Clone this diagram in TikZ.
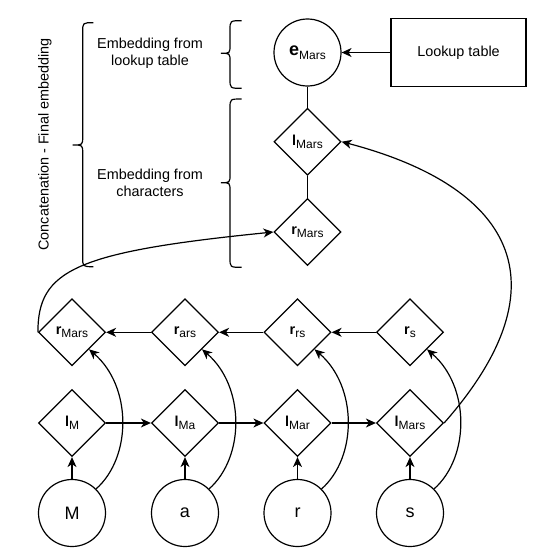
\documentclass[tikz,border=0pt]{standalone}
\usepackage{fontspec}
\setmainfont{Liberation Sans}
\usetikzlibrary{shapes.geometric,arrows.meta}
\newcommand\sbx[1]{\raisebox{-3.5pt}{\fontsize{12}{12}\selectfont #1}}
\begin{document}
\begin{tikzpicture}[x=1pt,y=-1pt,
  every node/.style={font=\fontsize{14.4}{16.7}\selectfont},
  dia/.style={draw, diamond, minimum width=67pt, minimum height=67pt, inner sep=0pt, line width=1.2pt},
  circ/.style={draw, circle, minimum size=67pt, inner sep=0pt, line width=1.2pt, font=\fontsize{18}{18}\selectfont},
  box/.style={draw, rectangle, minimum width=135pt, minimum height=68pt, line width=1.2pt},
  lbl/.style={align=center},
  conn/.style={line width=1.2pt},
  arr/.style={conn, -{Stealth[length=10pt,width=9pt,inset=3pt]}},
  brace/.style={line width=1.2pt}
]
\useasboundingbox (0,0) rectangle (549,549);

% top part
\node[circ] (e) at (307.5,52.5) {\textbf{e}\sbx{Mars}};
\node[box] (lut) at (458.5,52.5) {Lookup table};
\node[dia] (lT) at (307.5,141.7) {\textbf{l}\sbx{Mars}};
\node[dia] (rT) at (307.5,232) {\textbf{r}\sbx{Mars}};

% r row
\node[dia] (r1) at (72,332.3) {\textbf{r}\sbx{Mars}};
\node[dia] (r2) at (185,332.3) {\textbf{r}\sbx{ars}};
\node[dia] (r3) at (297.5,332.3) {\textbf{r}\sbx{rs}};
\node[dia] (r4) at (410,332.3) {\textbf{r}\sbx{s}};

% l row
\node[dia] (l1) at (72,423) {\textbf{l}\sbx{M}};
\node[dia] (l2) at (185,423) {\textbf{l}\sbx{Ma}};
\node[dia] (l3) at (297.5,423) {\textbf{l}\sbx{Mar}};
\node[dia] (l4) at (410,423) {\textbf{l}\sbx{Mars}};

% characters
\node[circ] (c1) at (72,513) {M};
\node[circ] (c2) at (185,513) {a};
\node[circ] (c3) at (297.5,513) {r};
\node[circ] (c4) at (410,513) {s};

% texts
\node[lbl] (t1) at (150,53.3) {Embedding from\\lookup table};
\node[lbl] (t2) at (150,183) {Embedding from\\characters};
\node[rotate=90] (t3) at (45,144.5) {Concatenation - Final embedding};

% braces
\draw[brace] (241.7,20.7) .. controls (230,20.7) .. (230,30) -- (230,45) .. controls (230,53.3) .. (221,53.3) .. controls (230,53.3) .. (230,61.6) -- (230,79) .. controls (230,88.3) .. (241.7,88.3);
\draw[brace] (241.7,99) .. controls (230,99) .. (230,108.3) -- (230,174.4) .. controls (230,182.7) .. (221,182.7) .. controls (230,182.7) .. (230,191) -- (230,258) .. controls (230,267.3) .. (241.7,267.3);
\draw[brace] (93.3,22.7) .. controls (82.7,22.7) .. (82.7,32) -- (82.7,136.7) .. controls (82.7,145) .. (72.7,145) .. controls (82.7,145) .. (82.7,153.3) -- (82.7,257.4) .. controls (82.7,266.7) .. (93.3,266.7);

% connectors
\draw[arr] (lut) -- (e);
\draw[conn] (e) -- (lT);
\draw[conn] (lT) -- (rT);

\foreach \i in {1,2,3,4} {
  \draw[arr] (c\i) -- (l\i);
  \draw[arr] (c\i.45) .. controls +(36,-32) and +(43,37) .. (r\i.-45);
}
\draw[arr] (l1) -- (l2);
\draw[arr] (l2) -- (l3);
\draw[arr] (l3) -- (l4);
\draw[arr] (r4) -- (r3);
\draw[arr] (r3) -- (r2);
\draw[arr] (r2) -- (r1);

\draw[arr] (l4.east) .. controls +(125,-142) and +(168,44) .. (lT.east);
\draw[arr] (r1.west) .. controls +(0,-62) and +(-199,20) .. (rT.west);
\end{tikzpicture}
\end{document}
